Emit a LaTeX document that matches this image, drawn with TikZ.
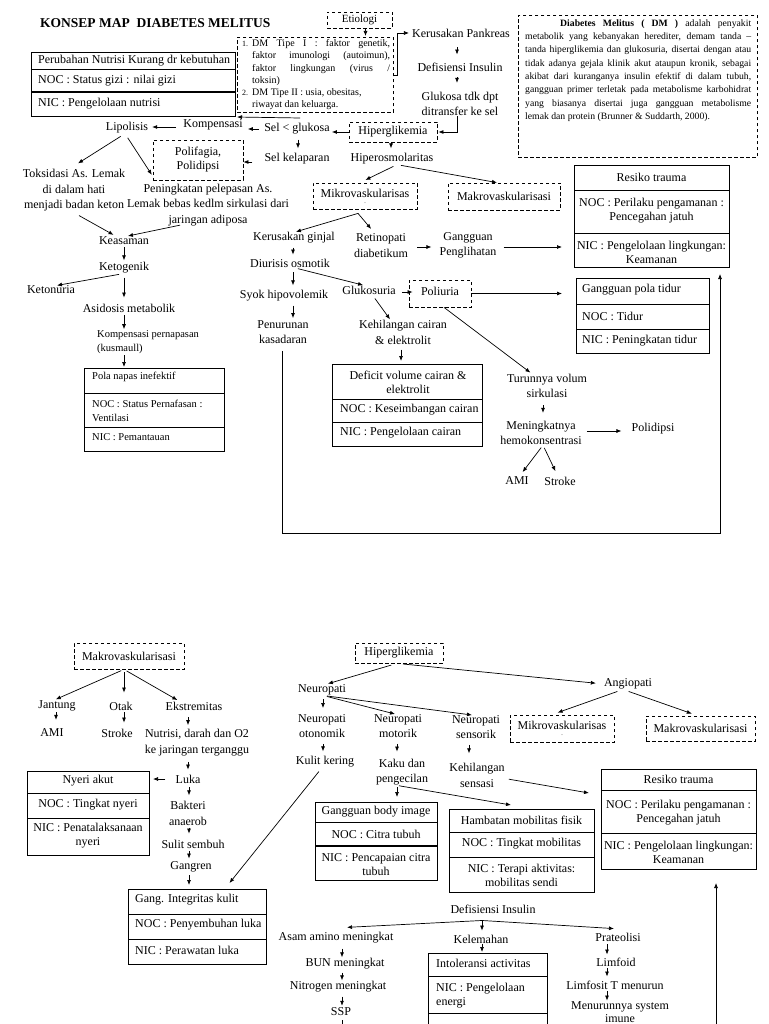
\documentclass[tikz,border=0pt]{standalone}
\usepackage{fontspec}
\setmainfont{Liberation Serif}
\usetikzlibrary{arrows.meta}
\newcommand{\ftA}{\fontsize{12}{15.5}\selectfont}
\newcommand{\ftB}{\fontsize{12}{14}\selectfont}
\newcommand{\ftS}{\fontsize{10.5}{14}\selectfont}
\newcommand{\ftD}{\fontsize{9.7}{13.3}\selectfont}
\newcommand{\ftE}{\fontsize{10}{12.4}\selectfont}
\newcommand{\jline}[2]{\makebox[#1][s]{#2}}
\begin{document}
\begin{tikzpicture}[x=1pt,y=-1pt,
 txt/.style={inner sep=0pt, align=center, font=\ftA},
 txtb/.style={inner sep=0pt, align=center, font=\ftB},
 txtl/.style={inner sep=0pt, anchor=west, align=left, font=\ftA},
 txts/.style={inner sep=0pt, anchor=west, align=left, font=\ftS},
 dtxt/.style={inner sep=0pt, anchor=west, font=\ftD},
 dml/.style={inner sep=0pt, anchor=west, font=\ftE},
 dbox/.style={draw, dash pattern=on 3.5pt off 2.5pt, line width=0.8pt, inner sep=0pt, font=\ftA, align=center},
 tbox/.style={draw, line width=1pt, inner sep=0pt, anchor=north west},
 arw/.style={line width=0.7pt, -{Latex[length=5pt,width=4pt]}},
 lnw/.style={line width=0.8pt},
 thk/.style={line width=1.6pt}
]
\useasboundingbox (0,0) rectangle (768,1024);
\fill[white] (0,0) rectangle (768,1024);
\clip (0,0) rectangle (768,1024);

% ---------------- TOP ----------------
\node[inner sep=0pt, anchor=west, font=\bfseries\fontsize{13.5}{16}\selectfont] (title) at (40,23) {KONSEP MAP\ \ DIABETES MELITUS};

\node[dbox, minimum width=65pt, minimum height=16pt, font=\fontsize{11}{13}\selectfont] (etio) at (359.5,20) {Etiologi};
\node[dbox, minimum width=156pt, minimum height=75pt, anchor=north west] (dm) at (237,37) {};
\node[dml, font=\fontsize{8}{10}\selectfont] (n1) at (242,44) {1.};
\node[dml, font=\fontsize{8}{10}\selectfont] (n2) at (242,93) {2.};
\node[dml] (dm1) at (252,44) {\jline{138pt}{DM Tipe I : faktor genetik,}};
\node[dml] (dm2) at (252,56.5) {\jline{138pt}{faktor imunologi (autoimun),}};
\node[dml] (dm3) at (252,69) {\jline{138pt}{faktor lingkungan (virus /}};
\node[dml] (dm4) at (252,81) {toksin)};
\node[dml] (dm5) at (252,93) {DM Tipe II : usia, obesitas,};
\node[dml] (dm6) at (252,105.5) {riwayat dan keluarga.};

\node[txt] (kp) at (461,33) {Kerusakan Pankreas};
\node[txt] (dfi) at (460,67) {Defisiensi Insulin};
\node[txt] (glu) at (460,104) {Glukosa tdk dpt\\ditransfer ke sel};
\node[dbox, minimum width=88pt, minimum height=20pt] (hip) at (393,132) {Hiperglikemia};
\node[txt] (sel) at (297,129) {Sel < glukosa};
\node[txt] (komp) at (213,125) {Kompensasi};
\node[txt] (lip) at (127,128) {Lipolisis};
\node[dbox, minimum width=90pt, minimum height=40pt, font=\ftB] (poli) at (198,160) {Polifagia,\\Polidipsi};
\node[txt] (selk) at (297,159) {Sel kelaparan};
\node[txt] (hyo) at (392,159) {Hiperosmolaritas};

% nutrition box
\node[tbox, minimum width=204pt, minimum height=64pt] (nutri) at (31,52) {};
\draw[lnw] (nutri.west |- 0,69) -- (nutri.east |- 0,69);
\draw[thk] (nutri.west |- 0,92) -- (nutri.east |- 0,92);
\node[txtl] (nu1) at (38,61) {Perubahan Nutrisi Kurang dr kebutuhan};
\node[txtl] (nu2) at (38,80.5) {NOC : Status gizi : nilai gizi};
\node[txtl] (nu3) at (38,103.5) {NIC : Pengelolaan nutrisi};

% definition box
\node[dbox, minimum width=239pt, minimum height=142pt, anchor=north west] (defb) at (518,15) {};
\node[dtxt] (d1) at (560,24) {\jline{191pt}{\textbf{Diabetes Melitus ( DM )} adalah penyakit}};
\node[dtxt] (d2) at (525,37.3) {\jline{226pt}{metabolik yang kebanyakan herediter, demam tanda –}};
\node[dtxt] (d3) at (525,50.6) {\jline{226pt}{tanda hiperglikemia dan glukosuria, disertai dengan atau}};
\node[dtxt] (d4) at (525,63.9) {\jline{226pt}{tidak adanya gejala klinik akut ataupun kronik, sebagai}};
\node[dtxt] (d5) at (525,77.2) {\jline{226pt}{akibat dari kuranganya insulin efektif di dalam tubuh,}};
\node[dtxt] (d6) at (525,90.5) {\jline{226pt}{gangguan primer terletak pada metabolisme karbohidrat}};
\node[dtxt] (d7) at (525,103.8) {\jline{226pt}{yang biasanya disertai juga gangguan metabolisme}};
\node[dtxt] (d8) at (525,117.1) {lemak dan protein (Brunner \& Suddarth, 2000).};

% middle
\node[dbox, minimum width=104pt, minimum height=26pt] (mik) at (365,196) {};
\node[txt] (mikt) at (365,193) {Mikrovaskularisas};
\node[txt, font=\fontsize{6}{7}\selectfont] (mikd) at (365,203) {.};
\node[dbox, minimum width=112pt, minimum height=27pt] (mak) at (504,196.5) {Makrovaskularisasi};
\node[txt] (kg) at (294,238) {Kerusakan ginjal};
\node[txt] (ret) at (381,245.5) {Retinopati\\diabetikum};
\node[txt] (dio) at (290,263) {Diurisis osmotik};
\node[txt] (gp) at (468,245.5) {Gangguan\\Penglihatan};
\node[txt] (syk) at (284,296) {Syok hipovolemik};
\node[txt] (gls) at (369,290) {Glukosuria};
\node[txt] (pnr) at (283,332) {Penurunan\\kasadaran};
\node[dbox, minimum width=62pt, minimum height=27pt] (pol) at (440,293.5) {};
\node[txt] (polt) at (440,291) {Poliuria};
\node[txt] (kc) at (403,332.5) {Kehilangan cairan\\\& elektrolit};

\node[tbox, minimum width=150pt, minimum height=82pt] (dfb) at (332,364) {};
\draw[lnw] (dfb.west |- 0,399) -- (dfb.east |- 0,399);
\draw[lnw] (dfb.west |- 0,422) -- (dfb.east |- 0,422);
\node[txtb] (dfb1) at (408,382.5) {Deficit volume cairan \&\\elektrolit};
\node[txtl] (dfb2) at (340,410) {NOC : Keseimbangan cairan};
\node[txtl] (dfb3) at (340,433) {NIC : Pengelolaan cairan};

\node[txt] (tur) at (547,386) {Turunnya volum\\sirkulasi};
\node[txt] (men) at (541,433) {Meningkatnya\\hemokonsentrasi};
\node[txt] (pld) at (653,429) {Polidipsi};
\node[txt] (ami1) at (517,481) {AMI};
\node[txt] (stk1) at (560,481) {Stroke};

\node[tbox, minimum width=155pt, minimum height=102pt] (res1) at (574,165) {};
\draw[lnw] (res1.west |- 0,190) -- (res1.east |- 0,190);
\draw[lnw] (res1.west |- 0,233) -- (res1.east |- 0,233);
\node[txt] (r1a) at (651.5,177) {Resiko trauma};
\node[txtb] (r1b) at (651.5,210.5) {NOC : Perilaku pengamanan :\\Pencegahan jatuh};
\node[txtb] (r1c) at (651.5,252) {NIC : Pengelolaan lingkungan:\\Keamanan};

\node[tbox, minimum width=133pt, minimum height=75pt] (gpt) at (576,278) {};
\draw[lnw] (gpt.west |- 0,304) -- (gpt.east |- 0,304);
\draw[lnw] (gpt.west |- 0,329) -- (gpt.east |- 0,329);
\node[txtl] (g1) at (582,290) {Gangguan pola tidur};
\node[txtl] (g2) at (582,316) {NOC : Tidur};
\node[txtl] (g3) at (582,341) {NIC : Peningkatan tidur};

% left middle
\node[txt] (tok) at (74,190.5) {Toksidasi As. Lemak\\di dalam hati\\menjadi badan keton};
\node[txt] (pen) at (208,205) {Peningkatan pelepasan As.\\Lemak bebas kedlm sirkulasi dari\\jaringan adiposa};
\node[txt] (kea) at (124,241) {Keasaman};
\node[txt] (ktg) at (124,268) {Ketogenik};
\node[txt] (ktn) at (51,290) {Ketonuria};
\node[txt] (asi) at (129,308) {Asidosis metabolik};
\node[txts] (kp2) at (97,342) {Kompensasi pernapasan\\(kusmaull)};
\node[tbox, minimum width=140pt, minimum height=83pt] (pola) at (84,368) {};
\draw[lnw] (pola.west |- 0,393) -- (pola.east |- 0,393);
\draw[lnw] (pola.west |- 0,427) -- (pola.east |- 0,427);
\node[txts] (po1) at (92,377) {Pola napas inefektif};
\node[txts] (po2) at (92,410.5) {NOC : Status Pernafasan :\\Ventilasi};
\node[txts] (po3) at (92,437) {NIC : Pemantauan};

% ---------------- LOWER ----------------
\node[dbox, minimum width=110pt, minimum height=26pt] (mak2) at (129,656) {Makrovaskularisasi};
\node[txt] (jan) at (57,706) {Jantung};
\node[txt] (otk) at (121,706) {Otak};
\node[txt] (eks) at (194,706) {Ekstremitas};
\node[txt] (ami2) at (52,733) {AMI};
\node[txt] (stk2) at (117,733) {Stroke};
\node[txt] (nut) at (197,742.5) {Nutrisi, darah dan O2\\ke jaringan terganggu};
\node[txt] (luk) at (188,779) {Luka};
\node[tbox, minimum width=122pt, minimum height=84pt] (nye) at (27,771) {};
\draw[lnw] (nye.west |- 0,793) -- (nye.east |- 0,793);
\draw[lnw] (nye.west |- 0,818) -- (nye.east |- 0,818);
\node[txt] (ny1) at (88,781) {Nyeri akut};
\node[txt] (ny2) at (88,805) {NOC : Tingkat nyeri};
\node[txtb] (ny3) at (88,835.5) {NIC : Penatalaksanaan\\nyeri};
\node[txt] (bak) at (188,813.5) {Bakteri\\anaerob};
\node[txt] (sul) at (193,844) {Sulit sembuh};
\node[txt] (gre) at (191,867) {Gangren};
\node[tbox, minimum width=138pt, minimum height=75pt] (gib) at (128,889) {};
\draw[lnw] (gib.west |- 0,914) -- (gib.east |- 0,914);
\draw[lnw] (gib.west |- 0,939) -- (gib.east |- 0,939);
\node[txtl] (gi1) at (135,900) {Gang. Integritas kulit};
\node[txtl] (gi2) at (135,925) {NOC : Penyembuhan luka};
\node[txtl] (gi3) at (135,950) {NIC : Perawatan luka};

\node[dbox, minimum width=88pt, minimum height=20pt] (hip2) at (399,653) {Hiperglikemia};
\node[txt] (neu) at (322,690) {Neuropati};
\node[txt] (ang) at (628,684) {Angiopati};
\node[dbox, minimum width=104pt, minimum height=27pt] (mik2) at (562,728.5) {};
\node[txt] (mik2t) at (562,725) {Mikrovaskularisas};
\node[txt, font=\fontsize{6}{7}\selectfont] (mik2d) at (562,735) {.};
\node[dbox, minimum width=109pt, minimum height=25pt] (mak3) at (700.5,728.5) {Makrovaskularisasi};
\node[txt] (neo) at (322,726) {Neuropati\\otonomik};
\node[txt] (nem) at (398,726) {Neuropati\\motorik};
\node[txt] (nes) at (476,727) {Neuropati\\sensorik};
\node[txt] (kk) at (325,762) {Kulit kering};
\node[txt] (kak) at (402,772) {Kaku dan\\pengecilan};
\node[txt] (keh) at (477,775.5) {Kehilangan\\sensasi};

\node[tbox, minimum width=122pt, minimum height=78pt] (bod) at (315,802) {};
\draw[lnw] (bod.west |- 0,822) -- (bod.east |- 0,822);
\draw[thk] (bod.west |- 0,846) -- (bod.east |- 0,846);
\node[txt] (bo1) at (376,812) {Gangguan body image};
\node[txt] (bo2) at (376,834) {NOC : Citra tubuh};
\node[txtb] (bo3) at (376,864.5) {NIC : Pencapaian citra\\tubuh};

\node[tbox, minimum width=145pt, minimum height=83pt] (ham) at (449,809) {};
\draw[lnw] (ham.west |- 0,832) -- (ham.east |- 0,832);
\draw[lnw] (ham.west |- 0,857) -- (ham.east |- 0,857);
\node[txt] (ha1) at (521.5,820) {Hambatan mobilitas fisik};
\node[txt] (ha2) at (521.5,844) {NOC : Tingkat mobilitas};
\node[txtb] (ha3) at (521.5,875.5) {NIC : Terapi aktivitas:\\mobilitas sendi};

\node[tbox, minimum width=155pt, minimum height=100pt] (res2) at (601,769) {};
\draw[lnw] (res2.west |- 0,790) -- (res2.east |- 0,790);
\draw[lnw] (res2.west |- 0,833) -- (res2.east |- 0,833);
\node[txt] (r2a) at (678.5,779.5) {Resiko trauma};
\node[txtb] (r2b) at (678.5,813) {NOC : Perilaku pengamanan :\\Pencegahan jatuh};
\node[txtb] (r2c) at (678.5,852.5) {NIC : Pengelolaan lingkungan:\\Keamanan};

\node[txt] (dins) at (493,909) {Defisiensi Insulin};
\node[txt] (asa) at (336,938) {Asam amino meningkat};
\node[txt] (kel) at (481,939) {Kelemahan};
\node[txt] (pra) at (618,937) {Prateolisi};
\node[tbox, minimum width=119pt, minimum height=80pt] (int) at (428,953) {};
\draw[lnw] (int.west |- 0,976) -- (int.east |- 0,976);
\draw[lnw] (int.west |- 0,1013) -- (int.east |- 0,1013);
\node[txtl] (in1) at (436,963) {Intoleransi activitas};
\node[txtl, font=\ftB] (in2) at (436,996) {NIC : Pengelolaan\\energi};
\node[txt] (bun) at (345,964) {BUN meningkat};
\node[txt] (nit) at (338,987) {Nitrogen meningkat};
\node[txt] (ssp) at (341,1012) {SSP};
\node[txt] (lim) at (616,962) {Limfoid};
\node[txt] (lft) at (615,985) {Limfosit T menurun};
\node[txt, font=\fontsize{12}{12.5}\selectfont] (mnr) at (620,1012) {Menurunnya system\\imune};

% ---------------- CONNECTORS (top) ----------------
\draw[arw, shorten >=1pt] ([xshift=6pt]etio.south) -- ([xshift=6pt]etio.south |- dm.north);
\draw[arw, shorten >=3pt] (dm.east) -- ++(4,0) |- (kp.west);
\draw[arw, shorten <=10pt, shorten >=8pt] ([xshift=-4pt]kp.south) -- ([xshift=-4pt]kp.south |- dfi.north);
\draw[arw, shorten <=6pt, shorten >=9pt] ([xshift=-3pt]dfi.south) -- ([xshift=-3pt]dfi.south |- glu.north);
\draw[arw, shorten >=1pt] ([xshift=-3pt]glu.south) |- (hip.east);
\draw[arw, shorten >=2pt] (hip.west) -- (hip.west -| sel.east);
\draw[arw, shorten <=5pt, shorten >=5pt] (sel.west) -- (sel.west -| komp.east);
\coordinate (cs) at (300,118);
\draw[arw, shorten >=1pt] (cs) -- (nutri.south east);
\draw[arw, shorten <=7pt, shorten >=4pt] ([yshift=-2pt]komp.west) -- ([yshift=-2pt]komp.west -| lip.east);
\draw[arw, shorten <=5pt, shorten >=5pt] ([xshift=1pt]sel.south) -- ([xshift=1pt]sel.south |- selk.north);
\draw[arw, shorten <=12pt] ([yshift=-3pt]selk.west) -- ([yshift=-3pt]selk.west -| poli.east);
\draw[arw, shorten >=5pt] ([xshift=-2pt]hip.south) -- ([xshift=-2pt]hip.south |- hyo.north);
\draw[arw, shorten <=4pt, shorten >=6pt] ([xshift=5pt]hyo.south) -- ([xshift=-5pt]mik.north);
\draw[arw, shorten <=4pt] ([xshift=5pt]hyo.south) -- ([xshift=-7pt]mak.north);
\draw[arw, shorten >=2pt] ([shift={(-7,4)}]mik.south) -- (kg.north);
\draw[arw, shorten >=6pt] ([shift={(-7,4)}]mik.south) -- ([xshift=-6pt]ret.north);
\draw[arw, shorten <=4pt, shorten >=4pt] ([xshift=-1pt]kg.south) -- ([xshift=-1pt]kg.south |- dio.north);
\draw[arw, shorten <=9pt, shorten >=8pt] ([yshift=-1.5pt]ret.east) -- ([yshift=-1.5pt]ret.east -| gp.west);
\draw[arw, shorten <=7pt, shorten >=12pt] ([yshift=-1.5pt]gp.east) -- ([yshift=-1.5pt]gp.east -| res1.west);
\draw[arw, shorten <=5pt, shorten >=5pt] ([xshift=3pt]dio.south) -- ([xshift=3pt]dio.south |- syk.north);
\draw[arw, shorten <=5pt, shorten >=2pt] ([xshift=3pt]dio.south) -- ([xshift=-4pt]gls.north);
\draw[arw, shorten <=4pt, shorten >=2pt] ([xshift=9pt]syk.south) -- ([xshift=9pt]syk.south |- pnr.north);
\draw[arw, shorten <=6pt, shorten >=-4pt] ([yshift=-2pt]gls.east) -- ([yshift=-2pt]gls.east -| pol.west);
\draw[arw, shorten <=5pt] ([xshift=3pt]gls.south) -- ([shift={(-13,-1)}]kc.north);
\draw[arw, shorten <=5pt, shorten >=3pt] ([xshift=-2pt]kc.south) -- ([xshift=-2pt]kc.south |- dfb.north);
\draw[arw, shorten >=2pt] ([xshift=4pt]pol.south) -- ([xshift=-15pt]tur.north);
\draw[arw, shorten >=14pt] (pol.east) -- (pol.east -| gpt.west);
\draw[arw, shorten <=7pt, shorten >=8pt] ([xshift=-4pt]tur.south) -- ([xshift=-4pt]tur.south |- men.north);
\draw[arw, shorten <=5pt, shorten >=10pt] ([yshift=2pt]men.east) -- ([yshift=2pt]men.east -| pld.west);
\draw[arw, shorten <=3pt, shorten >=6pt] ([xshift=2pt]men.south) -- ([xshift=2pt]ami1.north);
\draw[arw, shorten <=3pt, shorten >=6pt] ([xshift=2pt]men.south) -- ([xshift=-2pt]stk1.north);
\coordinate (lp1) at (282,533);
\draw[arw, shorten <=7pt, shorten >=6pt] ([xshift=-1pt]pnr.south) -- ([xshift=-1pt]pnr.south |- lp1) -| ([xshift=-10pt]res1.south east);

\draw[arw, shorten <=5pt] ([xshift=-2pt]lip.south) -- ([shift={(4,-6)}]tok.north);
\draw[arw, shorten <=5pt] ([xshift=-2pt]lip.south) -- ([shift={(25,-9)}]pen.north west);
\draw[arw, shorten <=8pt, shorten >=4pt] ([xshift=-2pt]tok.south) -- ([xshift=-7pt]kea.north);
\draw[arw, shorten >=4pt] ([shift={(-28,-1)}]pen.south) -- (kea.north);
\draw[arw, shorten <=2pt, shorten >=2pt] (kea.south) -- (kea.south |- ktg.north);
\draw[arw, shorten <=4pt, shorten >=2pt] ([xshift=-1pt]ktg.south) -- ([xshift=4pt]ktn.north);
\draw[arw, shorten <=4pt, shorten >=6pt] (ktg.south) -- (ktg.south |- asi.north);
\draw[arw, shorten <=3pt, shorten >=1pt] (asi.south -| kea.south) -- (kp2.north -| kea.south);
\draw[arw, shorten <=1.5pt, shorten >=1pt] (kp2.south -| kea.south) -- (pola.north -| kea.south);

% ---------------- CONNECTORS (lower) ----------------
\draw[arw, shorten <=3pt, shorten >=3pt] ([xshift=-5pt]mak2.south) -- ([xshift=-4pt]jan.north);
\draw[arw, shorten <=3pt, shorten >=9pt] ([xshift=-5pt]mak2.south) -- ([xshift=3pt]otk.north);
\draw[arw, shorten <=3pt, shorten >=3pt] ([xshift=-5pt]mak2.south) -- ([xshift=-14pt]eks.north);
\draw[arw, shorten <=1pt, shorten >=9pt] ([xshift=-1pt]jan.south) -- ([xshift=-1pt]jan.south |- ami2.north);
\draw[arw, shorten <=2pt, shorten >=6pt] ([xshift=3pt]otk.south) -- ([xshift=3pt]otk.south |- stk2.north);
\draw[arw, shorten <=7pt, shorten >=4pt] ([xshift=-6pt]eks.south) -- ([xshift=-6pt]eks.south |- nut.north);
\draw[arw, shorten <=6pt, shorten >=5pt] (luk.north |- nut.south) -- (luk.north);
\draw[arw, shorten <=10pt, shorten >=3pt] (luk.west) -- (luk.west -| nye.east);
\draw[arw, shorten <=4pt, shorten >=6pt] ([xshift=1pt]luk.south) -- ([xshift=1pt]luk.south |- bak.north);
\draw[arw, shorten <=2pt, shorten >=6pt] ([xshift=1pt]bak.south) -- ([xshift=1pt]bak.south |- sul.north);
\draw[arw, shorten <=3pt, shorten >=3pt] ([xshift=-4pt]sul.south) -- ([xshift=-4pt]sul.south |- gre.north);
\draw[arw, shorten <=3pt, shorten >=4pt] ([xshift=-2pt]gre.south) -- ([xshift=-2pt]gre.south |- gib.north);
\draw[arw, shorten <=5pt] ([xshift=-3pt]kk.south) -- ([shift={(32,-6)}]gib.north);

\draw[arw, shorten <=6pt, shorten >=3pt] ([xshift=-2pt]hip2.south) -- ([xshift=3pt]neu.north);
\draw[arw, shorten <=6pt, shorten >=8pt] ([xshift=-2pt]hip2.south) -- (ang.west);
\draw[arw, shorten <=6pt, shorten >=6pt] ([xshift=-5pt]ang.south) -- ([xshift=-10pt]mik2.north);
\draw[arw, shorten <=6pt, shorten >=6pt] ([xshift=-5pt]ang.south) -- ([xshift=-3pt]mak3.north);
\draw[arw, shorten <=4pt, shorten >=6pt] ([xshift=1pt]neu.south) -- ([xshift=1pt]neu.south |- neo.north);
\draw[arw, shorten <=4pt] ([xshift=1pt]neu.south) -- ([xshift=-3pt]nem.north);
\draw[arw, shorten <=4pt] ([xshift=1pt]neu.south) -- ([xshift=-4pt]nes.north);
\draw[arw, shorten <=6pt, shorten >=5pt] ([xshift=1pt]neo.south) -- ([xshift=1pt]neo.south |- kk.north);
\draw[arw, shorten <=6pt, shorten >=7pt] ([xshift=-1pt]nem.south) -- ([xshift=-1pt]nem.south |- kak.north);
\draw[arw, shorten <=6pt, shorten >=10pt] ([xshift=-7pt]nes.south) -- ([xshift=-7pt]nes.south |- keh.north);
\draw[arw, shorten <=4pt] ([yshift=-3pt]keh.east) -- ([shift={(-12,24)}]res2.north west);
\draw[arw, shorten <=2pt, shorten >=5pt] ([xshift=-5pt]kak.south) -- ([xshift=-5pt]kak.south |- bod.north);
\draw[arw, shorten <=2pt] ([xshift=-5pt]kak.south) -- ([shift={(-11,-4)}]ham.north);
\coordinate (up0) at (716,1030);
\draw[arw, shorten >=13pt] (up0) -- (up0 |- res2.south);

\draw[arw] ([shift={(-11,7)}]dins.south) -- ([shift={(11,-5)}]asa.north);
\draw[arw, shorten >=4pt] ([shift={(-11,7)}]dins.south) -- ([xshift=1pt]kel.north);
\draw[arw] ([shift={(-11,7)}]dins.south) -- ([shift={(-4,-4)}]pra.north);
\draw[arw, shorten <=1pt, shorten >=1pt] ([xshift=1pt]kel.south) -- ([xshift=1pt]kel.south |- int.north);
\draw[arw, shorten <=5pt, shorten >=1pt] ([xshift=6pt]asa.south) -- ([xshift=6pt]asa.south |- bun.north);
\draw[arw, shorten <=3pt, shorten >=1pt] ([xshift=-3pt]bun.south) -- ([xshift=-3pt]bun.south |- nit.north);
\draw[arw, shorten <=4pt, shorten >=2pt] ([xshift=4pt]nit.south) -- ([xshift=4pt]nit.south |- ssp.north);
\draw[lnw, shorten <=4pt] ([xshift=1pt]ssp.south) -- ++(0,12);
\draw[arw, shorten <=3pt, shorten >=3pt] ([xshift=-11pt]pra.south) -- ([xshift=-11pt]pra.south |- lim.north);
\draw[arw, shorten <=2pt, shorten >=4pt] ([xshift=-9pt]lim.south) -- ([xshift=-9pt]lim.south |- lft.north);
\draw[arw, shorten <=2pt, shorten >=1pt] ([xshift=-8pt]lft.south) -- ([xshift=-8pt]lft.south |- mnr.north);
\end{tikzpicture}
\end{document}
